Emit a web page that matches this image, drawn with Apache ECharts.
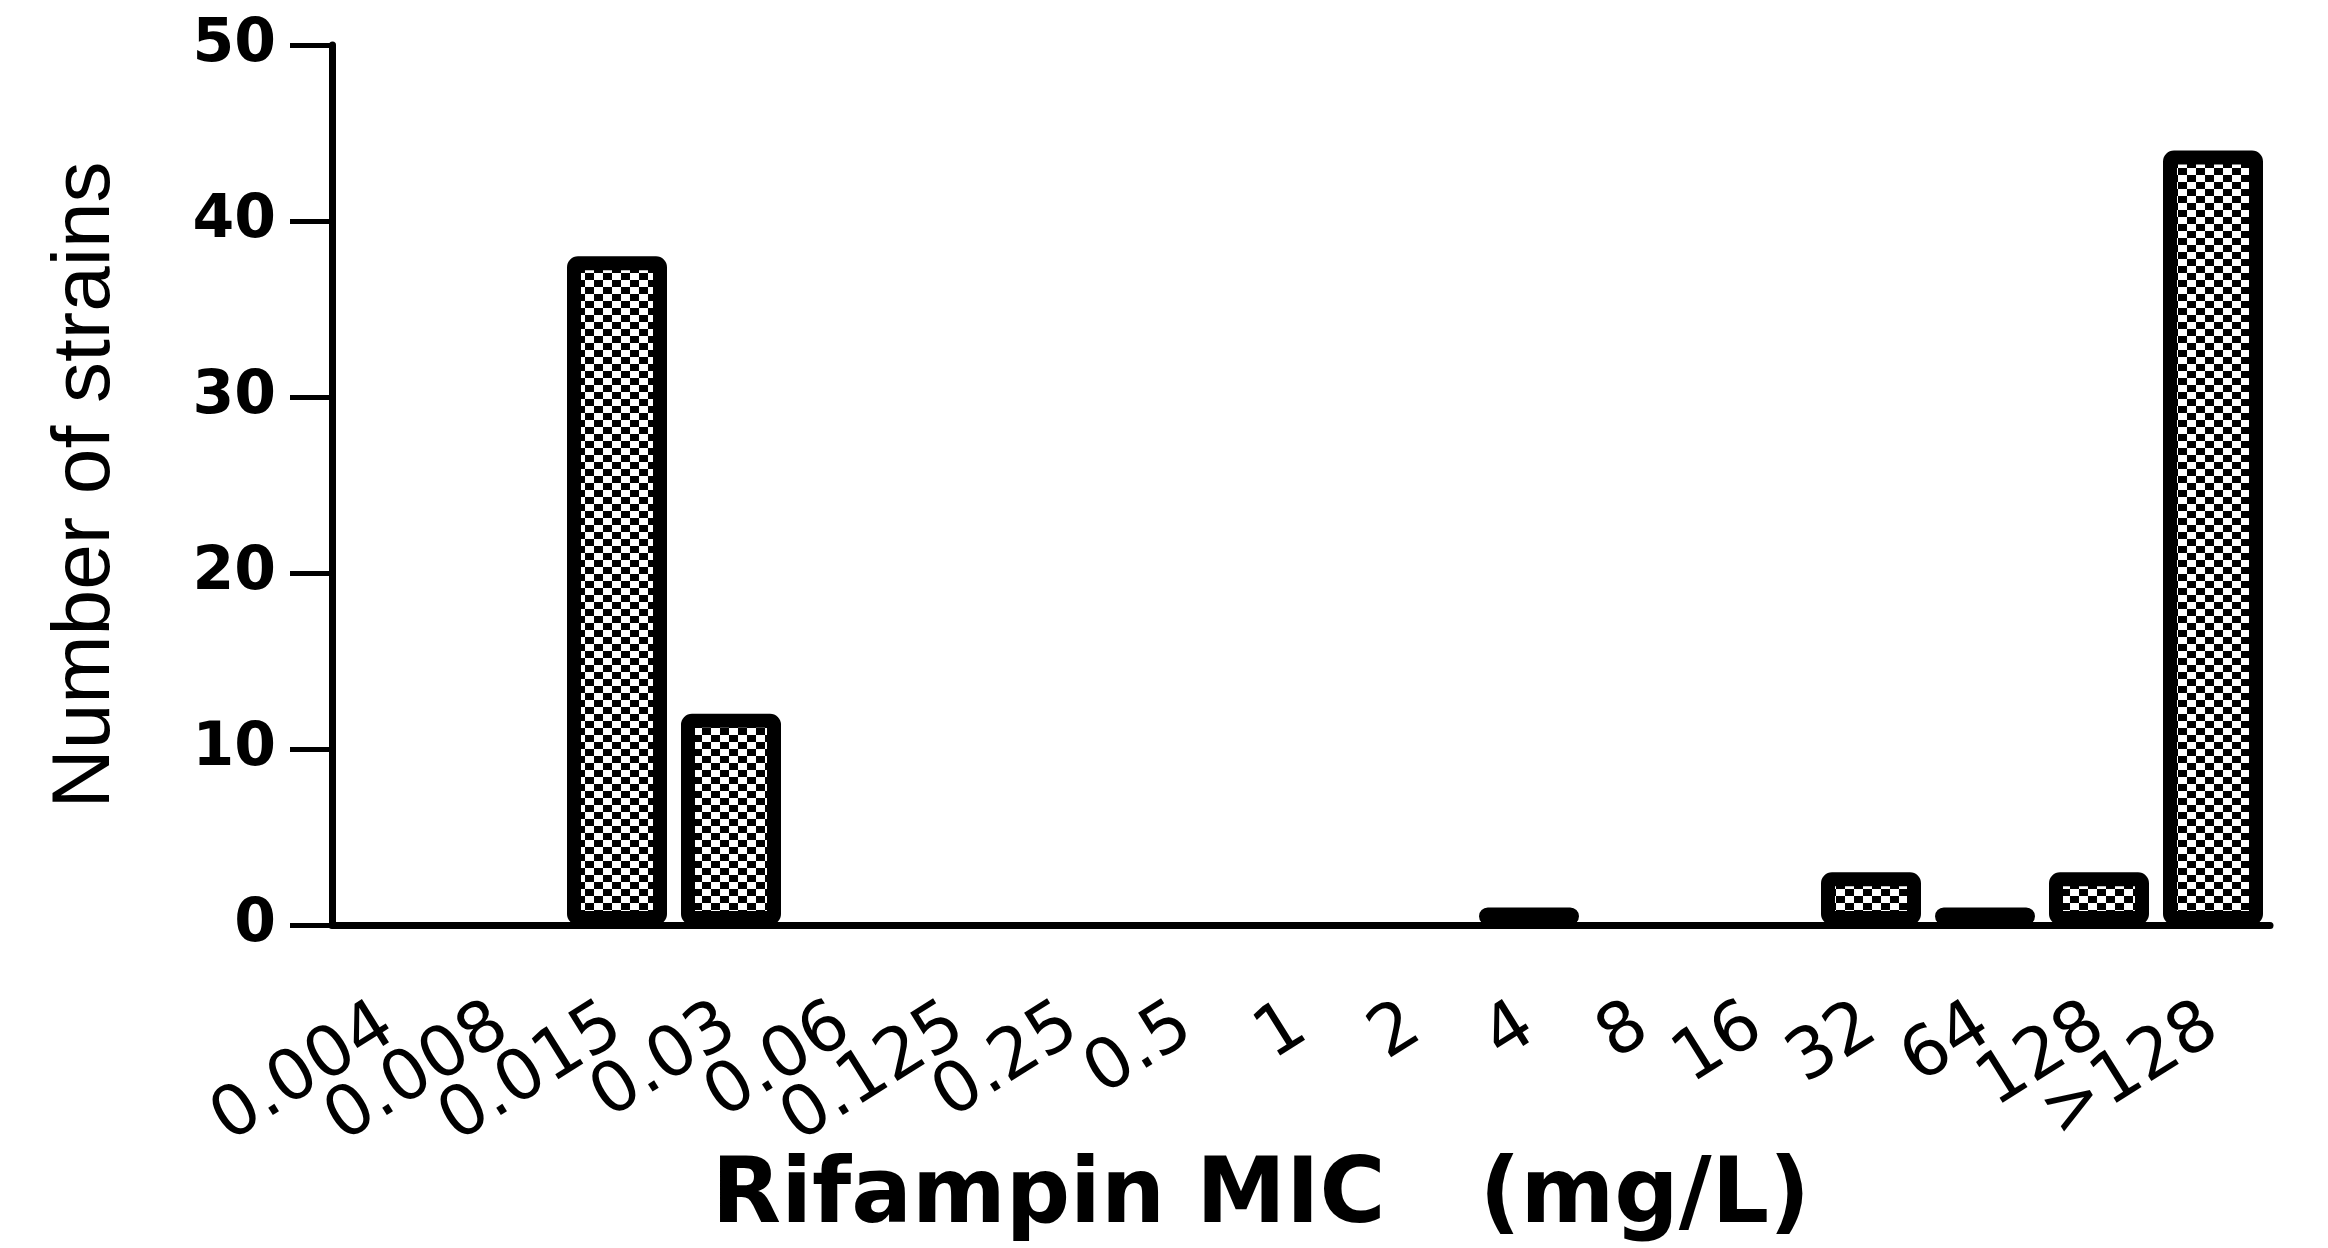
<!DOCTYPE html>
<html>
<head>
<meta charset="utf-8">
<script src="https://cdn.jsdelivr.net/npm/echarts@6/dist/echarts.min.js"></script>
<style>
  html, body { margin: 0; background: #fff; }
  #chart { width: 2328px; height: 1248px; }
</style>
</head>
<body>
<div id="chart"></div>
<script>
// MIC categories (mg/L) and number of strains at each
const micLabels = ['0.004', '0.008', '0.015', '0.03', '0.06', '0.125', '0.25', '0.5',
  '1', '2', '4', '8', '16', '32', '64', '128', '>128'];
const strainCounts = [0, 0, 38, 12, 0, 0, 0, 0, 0, 0, 1, 0, 0, 3, 1, 3, 44];

// checkered fill used inside the bars
function checkerPattern() {
  const c = document.createElement('canvas');
  c.width = 18;
  c.height = 14;
  const ctx = c.getContext('2d');
  ctx.fillStyle = '#fff';
  ctx.fillRect(0, 0, 18, 14);
  ctx.fillStyle = '#000';
  ctx.fillRect(0, 0, 9, 7);
  ctx.fillRect(9, 7, 9, 7);
  return c;
}

const chart = echarts.init(document.getElementById('chart'));

chart.setOption({
  backgroundColor: '#fff',
  animation: false,
  grid: {
    left: 332,
    right: 58,
    top: 45,
    bottom: 323,
    outerBoundsMode: 'none',
  },
  xAxis: {
    type: 'category',
    data: micLabels,
    name: 'Rifampin MIC   (mg/L)',
    nameLocation: 'middle',
    nameGap: 229,
    nameMoveOverlap: false,
    nameTextStyle: {
      fontFamily: 'DejaVu Sans',
      fontWeight: 'bold',
      fontSize: 90,
      color: '#000',
      padding: [0, 80, 0, 0],
    },
    axisLine: {
      lineStyle: { color: '#000', width: 7 },
    },
    axisTick: {
      alignWithLabel: true,
      length: 28,
      lineStyle: { color: '#000', width: 7 },
    },
    axisLabel: {
      interval: 0,
      rotate: 32,
      margin: 96,
      fontFamily: 'DejaVu Sans',
      fontSize: 70,
      color: '#000',
    },
  },
  yAxis: {
    type: 'value',
    min: 0,
    max: 50,
    interval: 10,
    name: 'Number of strains',
    nameLocation: 'middle',
    nameRotate: 90,
    nameGap: 205,
    nameMoveOverlap: false,
    nameTextStyle: {
      fontFamily: 'Liberation Sans',
      fontSize: 82,
      color: '#000',
    },
    axisLine: {
      show: true,
      lineStyle: { color: '#000', width: 7 },
    },
    axisTick: {
      show: true,
      length: 42,
      lineStyle: { color: '#000', width: 5 },
    },
    axisLabel: {
      margin: 56,
      fontFamily: 'DejaVu Sans',
      fontWeight: 'bold',
      fontSize: 60,
      color: '#000',
    },
    splitLine: { show: false },
  },
  series: [{
    type: 'bar',
    // empty categories get no bar at all
    data: strainCounts.map(v => (v === 0 ? null : v)),
    barWidth: 100,
    itemStyle: {
      color: { image: checkerPattern(), repeat: 'repeat' },
      borderColor: '#000',
      borderWidth: 14,
      borderRadius: 4,
    },
  }],
});
</script>
</body>
</html>
